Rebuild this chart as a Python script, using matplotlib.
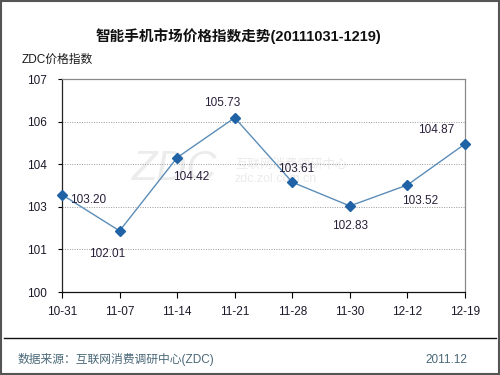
import numpy as np
import matplotlib
matplotlib.use('Agg')
import matplotlib.pyplot as plt
from matplotlib.patches import Rectangle
from matplotlib.lines import Line2D

plt.rcParams['font.family'] = ['Liberation Sans', 'Noto Sans CJK SC', 'DejaVu Sans']

# ================================================================
# Data
# ================================================================

dates = ['10-31', '11-07', '11-14', '11-21', '11-28', '11-30', '12-12', '12-19']
index_values = [103.20, 102.01, 104.42, 105.73, 103.61, 102.83, 103.52, 104.87]
y_ticks = [100, 101.4, 102.8, 104.2, 105.6, 107]

# label offsets in points (dx, dy) and alignment per point
label_offsets = [(6, -4, 'left', 'center'), (-9, -12, 'center', 'top'),
                 (10, -10, 'center', 'top'), (-9, 6, 'center', 'bottom'),
                 (3, 5, 'center', 'bottom'), (0, -10, 'center', 'top'),
                 (9, -7, 'center', 'top'), (-21, 6, 'center', 'bottom')]

# ================================================================
# Figure
# ================================================================

fig = plt.figure(figsize=(5, 3.75), dpi=100)
ax = fig.add_axes([0.124, 0.2213, 0.806, 0.5677])

x = np.arange(len(dates))
ax.plot(x, index_values, color='#5b8db8', linewidth=1.0, zorder=3)
ax.plot(x, index_values, linestyle='none', marker='D', markersize=5.5,
        color='#1f63a6', markeredgecolor='#1f63a6', zorder=4, clip_on=False)

for xi, v, (dx, dy, ha, va) in zip(x, index_values, label_offsets):
    ax.annotate(f'{v:.2f}', (xi, v), xytext=(dx, dy), textcoords='offset points',
                ha=ha, va=va, fontsize=8.5, color='#2a1f3a', zorder=5)

ax.set_xlim(0, len(dates) - 1)
ax.set_ylim(100, 107)
ax.set_xticks(x)
ax.set_xticklabels(dates, fontsize=8.5, color='#1a1a2a')
ax.set_yticks(y_ticks)
ax.set_yticklabels([f'{t:.0f}' for t in y_ticks], fontsize=8.5, color='#1a1a2a')
ax.tick_params(axis='x', direction='out', length=4, width=0.8, pad=6)
ax.tick_params(axis='y', direction='out', length=3, width=0.8, pad=8)

for t in y_ticks[1:-1]:
    ax.axhline(t, color='#9a9a9a', linestyle=(0, (1, 1.5)), linewidth=0.7, zorder=1)

ax.spines['left'].set_color('#222222')
ax.spines['bottom'].set_color('#111111')
ax.spines['top'].set_color('#8a8a8a')
ax.spines['right'].set_color('#8a8a8a')
for s in ax.spines.values():
    s.set_linewidth(0.9)

# watermark
ax.text(0.28, 0.58, 'ZDC', transform=ax.transAxes, fontsize=30, color='#ececec',
        style='italic', ha='center', va='center', zorder=0)
ax.text(0.57, 0.60, '互联网消费调研中心', transform=ax.transAxes, fontsize=9,
        color='#ebebeb', ha='center', va='center', zorder=0)
ax.text(0.53, 0.53, 'zdc.zol.com.cn', transform=ax.transAxes, fontsize=9,
        color='#ebebeb', ha='center', va='center', zorder=0)

# titles
fig.text(0.476, 0.905, '智能手机市场价格指数走势(20111031-1219)', ha='center', va='center',
         fontsize=10.5, fontweight='bold', color='#111111')
fig.text(0.044, 0.84, 'ZDC价格指数', ha='left', va='center', fontsize=8.5, color='#1a1a1a')

# footer
fig.add_artist(Line2D([0.008, 0.992], [0.099, 0.099], color='#111111', linewidth=1.0))
fig.text(0.036, 0.04, '数据来源：互联网消费调研中心(ZDC)', ha='left', va='center',
         fontsize=8.5, color='#4a6878')
fig.text(0.934, 0.04, '2011.12', ha='right', va='center', fontsize=8.5, color='#4a6878')

# outer frame
fig.add_artist(Rectangle((0.002, 0.003), 0.996, 0.994, transform=fig.transFigure,
                         fill=False, edgecolor='#555555', linewidth=1.5))

fig.savefig('out.png', dpi=100)
